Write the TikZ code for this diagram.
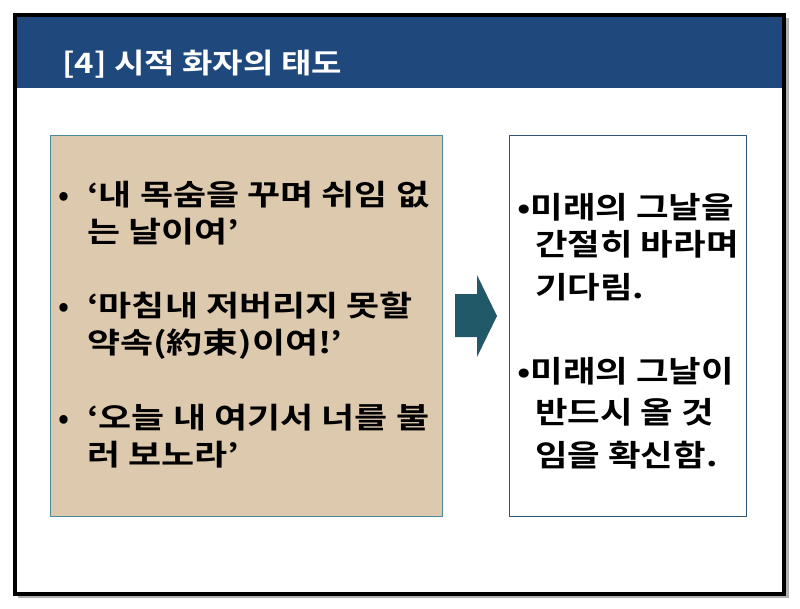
\documentclass[tikz,border=0pt]{standalone}
\usepackage{fontspec}
\setmainfont{Noto Sans CJK KR Bold}
\definecolor{hdr}{HTML}{1F497D}
\definecolor{beige}{HTML}{DDC9AD}
\definecolor{teal}{HTML}{215968}
\definecolor{lbord}{HTML}{4A8A9A}
\definecolor{rbord}{HTML}{2F5577}
\newcommand{\wideL}[1]{\scalebox{1.24}[1]{#1}}
\newcommand{\wideR}[1]{\scalebox{1.18}[1]{#1}}
\begin{document}
\begin{tikzpicture}[x=1pt,y=-1pt,
  lt/.style={anchor=base west,inner sep=0pt,font=\fontsize{29}{32}\selectfont},
  rt/.style={anchor=base west,inner sep=0pt,font=\fontsize{30}{34}\selectfont}]
\useasboundingbox (0,0) rectangle (800,608);
\fill[white] (0,0) rectangle (800,608);
\fill[gray!60] (18,18) rectangle (789,598);
\fill[white] (15,15) rectangle (784,594);
\fill[hdr] (15,15) rectangle (784,88);
\draw[line width=4pt] (15,15) rectangle (784,594);
\node[anchor=base west,inner sep=0pt,text=white,font=\fontsize{28}{32}\selectfont] (title) at (62,73) {\wideR{[4] 시적 화자의 태도}};
\node[draw=lbord,line width=1.2pt,fill=beige,minimum width=392pt,minimum height=381pt,anchor=north west,inner sep=0pt] (lbox) at (50,135) {};
\node[draw=rbord,line width=1.2pt,fill=white,minimum width=237pt,minimum height=381pt,anchor=north west,inner sep=0pt] (rbox) at (509,135) {};
\fill[teal] (455,294) -- (477,294) -- (477,275) -- (497,316) -- (477,357) -- (477,337) -- (455,337) -- cycle;
\node[lt] (b1) at (58,205) {•};
\node[lt] (l1) at (87,205) {\wideL{‘내 목숨을 꾸며 쉬임 없}};
\node[lt] (l2) at (87,242) {\wideL{는 날이여’}};
\node[lt] (b2) at (58,316) {•};
\node[lt] (l3) at (87,316) {\wideL{‘마침내 저버리지 못할}};
\node[lt] (l4) at (87,353) {\wideL{약속(約束)이여!’}};
\node[lt] (b3) at (58,428) {•};
\node[lt] (l5) at (87,428) {\wideL{‘오늘 내 여기서 너를 불}};
\node[lt] (l6) at (87,465) {\wideL{러 보노라’}};
\node[rt] (r1) at (517,218) {\wideR{•미래의 그날을}};
\node[rt] (r2) at (535,255) {\wideR{간절히 바라며}};
\node[rt] (r3) at (535,298) {\wideR{기다림.}};
\node[rt] (r4) at (517,382) {\wideR{•미래의 그날이}};
\node[rt] (r5) at (535,423) {\wideR{반드시 올 것}};
\node[rt] (r6) at (535,466) {\wideR{임을 확신함.}};
\end{tikzpicture}
\end{document}
